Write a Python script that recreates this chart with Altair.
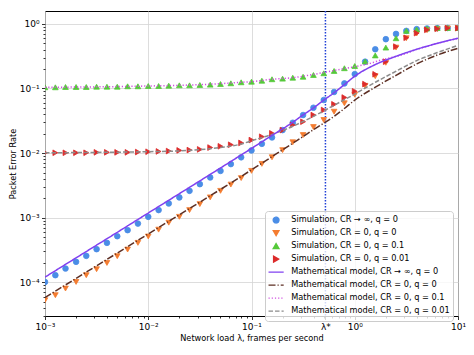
import altair as alt
import pandas as pd

# ---------------- data ----------------
load = [0.001, 0.00126, 0.00158, 0.002, 0.00251, 0.00316, 0.00398, 0.00501, 0.00631, 0.00794,
        0.01, 0.0126, 0.0158, 0.02, 0.0251, 0.0316, 0.0398, 0.0501, 0.0631, 0.0794,
        0.1, 0.126, 0.158, 0.2, 0.251, 0.316, 0.398, 0.501, 0.631, 0.794,
        1.0, 1.26, 1.58, 2.0, 2.51, 3.16, 3.98, 5.01, 6.31, 7.94, 10.0]

sim_inf_q0 = [1.01e-4, 1.285e-4, 1.63e-4, 2.07e-4, 2.56e-4, 3.25e-4, 4.07e-4, 5.16e-4, 6.4e-4, 8.1e-4,
              1.03e-3, 1.31e-3, 1.66e-3, 2.06e-3, 2.6e-3, 3.3e-3, 4.2e-3, 5.3e-3, 6.75e-3, 8.6e-3,
              0.0110, 0.0139, 0.0175, 0.0227, 0.0295, 0.0388, 0.0504, 0.0664, 0.0883, 0.12,
              0.167, 0.26, 0.405, 0.58, 0.70, 0.78, 0.83, 0.85, 0.86, 0.865, 0.87]

sim_cr0_q0 = [5.26e-5, 6.3e-5, 7.98e-5, 1.01e-4, 1.285e-4, 1.59e-4, 1.99e-4, 2.53e-4, 3.21e-4, 4.07e-4,
              5.11e-4, 6.52e-4, 8.36e-4, 1.03e-3, 1.31e-3, 1.62e-3, 2.06e-3, 2.6e-3, 3.25e-3, 4.1e-3,
              5.3e-3, 6.8e-3, 8.6e-3, 0.0111, 0.0147, 0.019, 0.0253, 0.0325, 0.0437, 0.059,
              0.08, 0.11, 0.155, 0.25, 0.43, 0.60, 0.71, 0.80, 0.83, 0.85, 0.86]

sim_cr0_q01 = [0.1044, 0.1044, 0.1055, 0.1055, 0.1055, 0.1066, 0.1066, 0.1066, 0.1082, 0.1082,
               0.1093, 0.1093, 0.1105, 0.112, 0.112, 0.1133, 0.1146, 0.1174, 0.1204, 0.1248,
               0.1275, 0.132, 0.139, 0.142, 0.147, 0.152, 0.162, 0.172, 0.187, 0.206,
               0.223, 0.262, 0.325, 0.43, 0.60, 0.78, 0.82, 0.85, 0.866, 0.866, 0.866]

sim_cr0_q001 = [0.0101, 0.0101, 0.0101, 0.0101, 0.0101, 0.01026, 0.01026, 0.01026, 0.01026, 0.01037,
                0.01048, 0.0106, 0.01074, 0.0110, 0.01113, 0.0114, 0.01217, 0.01274, 0.01345, 0.01435,
                0.0159, 0.0179, 0.0202, 0.0227, 0.0272, 0.0306, 0.0388, 0.0464, 0.0569, 0.0725,
                0.0905, 0.117, 0.166, 0.26, 0.445, 0.61, 0.72, 0.81, 0.84, 0.86, 0.86]

model_load = [0.001, 0.01, 0.1, 0.158, 0.251, 0.316, 0.398, 0.501, 0.631, 0.794,
              1.0, 1.585, 2.512, 3.981, 6.31, 10.0]
model_inf_q0 = [1.2e-4, 1.18e-3, 0.0118, 0.0188, 0.03, 0.039, 0.05, 0.066, 0.086, 0.115,
                0.155, 0.235, 0.315, 0.405, 0.50, 0.60]
model_cr0_q0 = [5.8e-5, 5.6e-4, 5.5e-3, 8.8e-3, 0.0142, 0.018, 0.023, 0.029, 0.037, 0.049,
                0.066, 0.105, 0.16, 0.24, 0.33, 0.42]

model_load_q = [0.001, 0.00316, 0.01, 0.02, 0.0316, 0.05, 0.0794, 0.1, 0.158, 0.251,
                0.398, 0.631, 1.0, 1.585, 2.512, 3.981, 6.31, 10.0]
model_cr0_q001 = [0.0101, 0.01025, 0.0105, 0.0108, 0.0113, 0.0122, 0.0138, 0.0155, 0.0195, 0.026,
                  0.037, 0.055, 0.082, 0.125, 0.185, 0.27, 0.36, 0.465]

model_load_q01 = [0.001, 0.00316, 0.01, 0.02, 0.0316, 0.05, 0.0794, 0.1, 0.158, 0.251,
                  0.398, 0.631, 1.0, 1.413, 1.778, 2.239, 2.818, 3.981, 6.31, 10.0]
model_cr0_q01 = [0.1044, 0.106, 0.1093, 0.112, 0.1146, 0.119, 0.1248, 0.1275, 0.139, 0.147,
                 0.165, 0.19, 0.218, 0.245, 0.275, 0.30, 0.33, 0.403, 0.498, 0.598]

lambda_star = 0.52

series = [
    "Simulation, CR → ∞, q = 0",
    "Simulation, CR = 0, q = 0",
    "Simulation, CR = 0, q = 0.1",
    "Simulation, CR = 0, q = 0.01",
    "Mathematical model, CR → ∞, q = 0",
    "Mathematical model, CR = 0, q = 0",
    "Mathematical model, CR = 0, q = 0.1",
    "Mathematical model, CR = 0, q = 0.01",
]

# ---------------- styles ----------------
colors = ["#4a8de6", "#f47c30", "#55c93a", "#dc2b2b", "#8040f0", "#5c2e23", "#d050e0", "#8c8c8c"]
LINE = "M-2.6,0H2.6"
shapes = ["circle", "triangle-down", "triangle-up", "triangle-right", LINE, LINE, LINE, LINE]
dashes = [[1, 0], [1, 0], [1, 0], [1, 0], [1, 0], [7, 2, 1.2, 2], [1.2, 2], [4.5, 2]]

sim_rows = []
for name, vals in zip(series[:4], [sim_inf_q0, sim_cr0_q0, sim_cr0_q01, sim_cr0_q001]):
    for xv, yv in zip(load, vals):
        sim_rows.append({"load": xv, "per": yv, "series": name})
sim_df = pd.DataFrame(sim_rows)

model_rows = []
for name, xs, vals in [
    (series[4], model_load, model_inf_q0),
    (series[5], model_load, model_cr0_q0),
    (series[6], model_load_q01, model_cr0_q01),
    (series[7], model_load_q, model_cr0_q001),
]:
    for xv, yv in zip(xs, vals):
        model_rows.append({"load": xv, "per": yv, "series": name})
model_df = pd.DataFrame(model_rows)

# ---------------- axes ----------------
x_major = [0.001, 0.01, 0.1, 1, 10]
x_minor = [m * d for d in [0.001, 0.01, 0.1, 1] for m in range(2, 10)]
x_values = sorted(x_major + x_minor + [lambda_star])
y_major = [0.0001, 0.001, 0.01, 0.1, 1]
y_minor = [m * 0.00001 for m in range(3, 10)] + [m * d for d in [0.0001, 0.001, 0.01, 0.1] for m in range(2, 10)]
y_values = sorted(y_major + y_minor)

x_major_test = "indexof([0.001,0.01,0.1,1,10], datum.value) >= 0"
x_tick_test = x_major_test + " || datum.value == " + str(lambda_star)
y_major_test = "indexof([0.0001,0.001,0.01,0.1,1], datum.value) >= 0"

x_label_expr = ("datum.value == 0.001 ? '10⁻³' : datum.value == 0.01 ? '10⁻²' : "
                "datum.value == 0.1 ? '10⁻¹' : datum.value == 1 ? '10⁰' : "
                "datum.value == 10 ? '10¹' : datum.value == " + str(lambda_star) + " ? 'λ*' : ''")
y_label_expr = ("datum.value == 0.0001 ? '10⁻⁴' : datum.value == 0.001 ? '10⁻³' : "
                "datum.value == 0.01 ? '10⁻²' : datum.value == 0.1 ? '10⁻¹' : "
                "datum.value == 1 ? '10⁰' : ''")

common_axis = dict(domain=False, tickColor="black", tickWidth=0.8, gridColor="#d4d4d4",
                   gridWidth=0.8, labelFontSize=9, titleFontSize=8.2, labelColor="black",
                   titleColor="black", titleFontWeight="normal", labelPadding=2.5,
                   labelOverlap=False, labelFlush=False, labelBound=False)

x_axis = alt.Axis(values=x_values, labelExpr=x_label_expr,
                  tickSize={"condition": {"test": x_tick_test, "value": 3.5}, "value": 2},
                  gridOpacity={"condition": {"test": x_major_test, "value": 1}, "value": 0},
                  titlePadding=3, **common_axis)
y_axis = alt.Axis(values=y_values, labelExpr=y_label_expr,
                  tickSize={"condition": {"test": y_major_test, "value": 3.5}, "value": 2},
                  gridOpacity={"condition": {"test": y_major_test, "value": 1}, "value": 0},
                  titlePadding=2, **common_axis)

x_scale = alt.Scale(type="log", domain=[0.001, 10], nice=False)
y_scale = alt.Scale(type="log", domain=[3e-5, 1.585], nice=False)

X = alt.X("load:Q", scale=x_scale, axis=x_axis, title="Network load λ, frames per second")
Y = alt.Y("per:Q", scale=y_scale, axis=y_axis, title="Packet Error Rate")

legend = alt.Legend(title=None, orient="none", legendX=220, legendY=200,
                    fillColor="rgba(255,255,255,0.8)", strokeColor="#cccccc", cornerRadius=3,
                    padding=3, symbolOffset=4, labelOffset=11, rowPadding=0, clipHeight=12.2,
                    symbolSize=34, symbolStrokeWidth=1.3, labelFontSize=8.2, labelLimit=300,
                    labelColor="black")

fill_scale = alt.Scale(domain=series, range=colors)
stroke_scale = alt.Scale(domain=series, range=colors)
shape_scale = alt.Scale(domain=series, range=shapes)
dash_scale = alt.Scale(domain=series, range=dashes)

vline = alt.Chart(pd.DataFrame({"lam": [lambda_star]})).mark_rule(
    color="#1f3fd6", strokeWidth=1.5, strokeDash=[1.5, 1.5]
).encode(x=alt.X("lam:Q", scale=x_scale, axis=x_axis, title="Network load λ, frames per second"))

points = alt.Chart(sim_df).mark_point(filled=True, size=32, strokeWidth=0.8, opacity=1, clip=True).encode(
    x=X, y=Y,
    fill=alt.Fill("series:N", scale=fill_scale, legend=legend),
    stroke=alt.Stroke("series:N", scale=stroke_scale, legend=legend),
    shape=alt.Shape("series:N", scale=shape_scale, legend=legend),
)

line_layers = []
for name in [series[6], series[5], series[7], series[4]]:
    line_layers.append(
        alt.Chart(model_df).transform_filter(alt.datum.series == name)
        .mark_line(strokeWidth=1.5, interpolate="monotone", clip=True)
        .encode(
            x=X, y=Y,
            stroke=alt.Stroke("series:N", scale=stroke_scale, legend=legend),
            strokeDash=alt.StrokeDash("series:N", scale=dash_scale, legend=legend),
        )
    )

chart = alt.layer(vline, points, *line_layers).properties(
    width=413, height=305,
    autosize=alt.AutoSizeParams(type="none"),
    padding={"left": 45, "top": 11, "right": 16, "bottom": 39},
).configure(font="DejaVu Sans", background="white").configure_view(
    stroke="black", strokeWidth=1
)

chart.save("out.html", embed_options={"renderer": "svg", "actions": False})
